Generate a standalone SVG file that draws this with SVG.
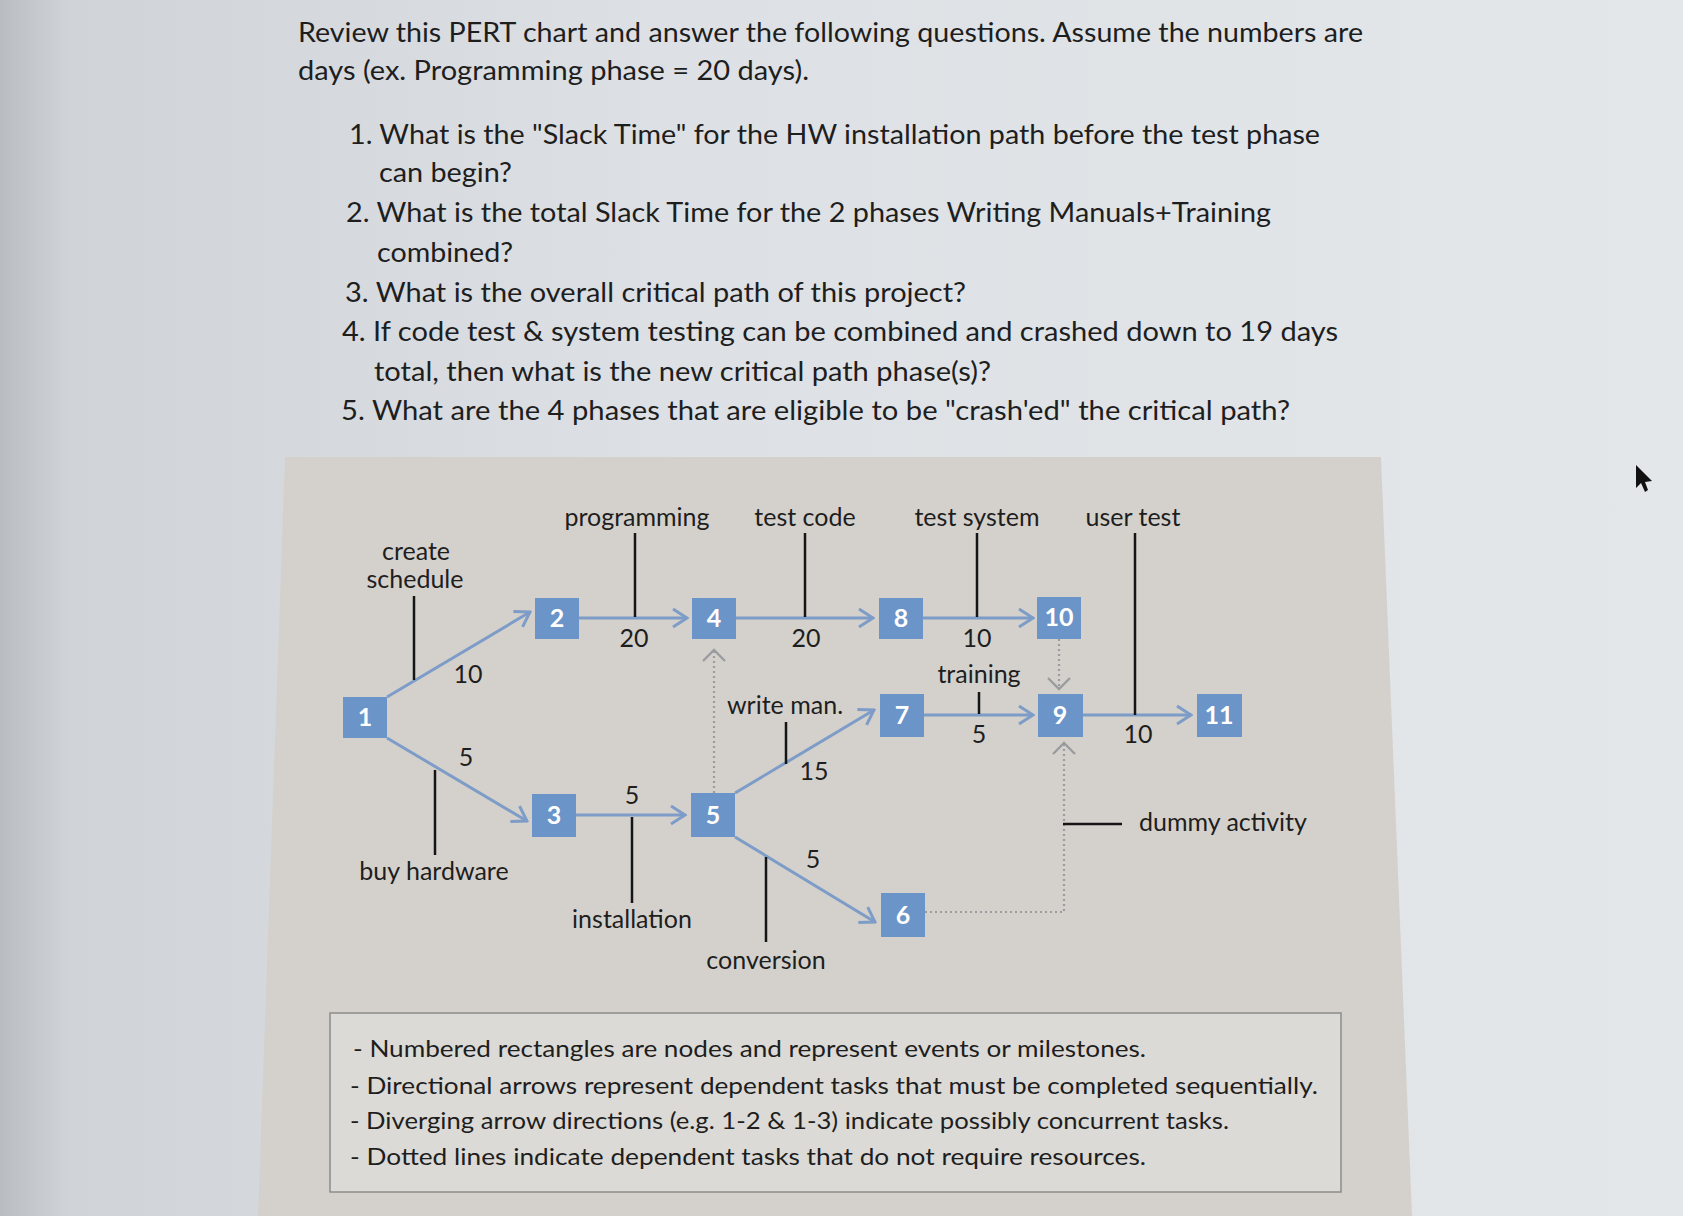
<svg xmlns="http://www.w3.org/2000/svg" width="1683" height="1216" viewBox="0 0 1683 1216">
<defs>
<linearGradient id="bg" x1="0" y1="0" x2="1" y2="0">
<stop offset="0" stop-color="#b9bdc1"/>
<stop offset="0.04" stop-color="#d0d4d8"/>
<stop offset="0.4" stop-color="#dde1e5"/>
<stop offset="1" stop-color="#e3e7ea"/>
</linearGradient>
<marker id="ah" markerUnits="userSpaceOnUse" markerWidth="18" markerHeight="22" viewBox="0 0 18 22" refX="16" refY="11" orient="auto">
<path d="M2,2 L16,11 L2,20" fill="none" stroke="#7d9cc8" stroke-width="3"/>
</marker>
<marker id="dh" markerUnits="userSpaceOnUse" markerWidth="16" markerHeight="26" viewBox="0 0 16 26" refX="14" refY="13" orient="auto">
<path d="M3,2 L14,13 L3,24" fill="none" stroke="#9a9ca0" stroke-width="2.4"/>
</marker>
<style>
.q{font-family:Lato,"Liberation Sans",sans-serif;font-size:26px;fill:#1e1e1e}
.lbl{font-family:Lato,"Liberation Sans",sans-serif;font-size:25px;fill:#1e1e1e}
.leg{font-family:Lato,"Liberation Sans",sans-serif;font-size:24px;fill:#1e1e1e}
.nd{fill:#6b94c9}
.nt{font-family:Lato,"Liberation Sans",sans-serif;font-size:25px;font-weight:bold;fill:#ffffff;text-anchor:middle}
.e{stroke:#7d9cc8;stroke-width:3;fill:none;marker-end:url(#ah)}
.d{stroke:#9a9ca0;stroke-width:2.2;fill:none;stroke-dasharray:2 3}
.k{stroke:#151515;stroke-width:2.5}
.c{text-anchor:middle}
</style>
</defs>
<rect width="1683" height="1216" fill="url(#bg)"/>
<polygon points="285,457 1381,457 1412,1216 258,1216" fill="#d4d1cc"/>

<g id="questions">
<text class="q" x="298" y="42" textLength="1065" lengthAdjust="spacingAndGlyphs">Review this PERT chart and answer the following questions.  Assume the numbers are</text>
<text class="q" x="298" y="80" textLength="511" lengthAdjust="spacingAndGlyphs">days (ex. Programming phase  = 20 days).</text>
<text class="q" x="349" y="144" textLength="971" lengthAdjust="spacingAndGlyphs">1. What is the "Slack Time" for the HW installation path before the test phase</text>
<text class="q" x="379" y="182" textLength="133" lengthAdjust="spacingAndGlyphs">can begin?</text>
<text class="q" x="346" y="222" textLength="925" lengthAdjust="spacingAndGlyphs">2. What is the total Slack Time for the 2 phases Writing Manuals+Training</text>
<text class="q" x="377" y="262" textLength="136" lengthAdjust="spacingAndGlyphs">combined?</text>
<text class="q" x="345" y="302" textLength="621" lengthAdjust="spacingAndGlyphs">3. What is the overall critical path of this project?</text>
<text class="q" x="342" y="341" textLength="996" lengthAdjust="spacingAndGlyphs">4. If code test &amp; system testing can be combined and crashed down to 19 days</text>
<text class="q" x="374" y="381" textLength="617" lengthAdjust="spacingAndGlyphs">total, then what is the new critical path phase(s)?</text>
<text class="q" x="341" y="420" textLength="949" lengthAdjust="spacingAndGlyphs">5. What are the 4 phases that are eligible to be "crash'ed" the critical path?</text>
</g>

<g id="connectors">
<line class="e" x1="387" y1="697" x2="530" y2="612"/>
<line class="e" x1="387" y1="738" x2="527" y2="821"/>
<line class="e" x1="579" y1="618" x2="687" y2="618"/>
<line class="e" x1="576" y1="815" x2="685" y2="815"/>
<line class="e" x1="736" y1="618" x2="873" y2="618"/>
<line class="e" x1="923" y1="618" x2="1033" y2="618"/>
<line class="e" x1="735" y1="793" x2="874" y2="710"/>
<line class="e" x1="924" y1="715" x2="1033" y2="715"/>
<line class="e" x1="1083" y1="715" x2="1191" y2="715"/>
<line class="e" x1="735" y1="837" x2="875" y2="922"/>
<path class="d" d="M714,793 V650" marker-end="url(#dh)"/>
<path class="d" d="M1059,639 V689" marker-end="url(#dh)"/>
<path class="d" d="M925,912 H1064 V743" marker-end="url(#dh)"/>
</g>

<g id="labels">
<line class="k" x1="414" y1="596" x2="414" y2="680"/>
<text class="lbl c" x="416" y="560">create</text>
<text class="lbl c" x="415" y="588">schedule</text>
<text class="lbl c" x="468" y="683">10</text>
<line class="k" x1="435" y1="770" x2="435" y2="855"/>
<text class="lbl c" x="434" y="880">buy hardware</text>
<text class="lbl c" x="466" y="766">5</text>
<line class="k" x1="635" y1="533" x2="635" y2="617"/>
<text class="lbl c" x="637" y="526">programming</text>
<text class="lbl c" x="634" y="647">20</text>
<line class="k" x1="805" y1="533" x2="805" y2="617"/>
<text class="lbl c" x="805" y="526">test code</text>
<text class="lbl c" x="806" y="647">20</text>
<line class="k" x1="977" y1="533" x2="977" y2="617"/>
<text class="lbl c" x="977" y="526">test system</text>
<text class="lbl c" x="977" y="647">10</text>
<line class="k" x1="1135" y1="533" x2="1135" y2="715"/>
<text class="lbl c" x="1133" y="526">user test</text>
<text class="lbl c" x="1138" y="743">10</text>
<line class="k" x1="979" y1="692" x2="979" y2="714"/>
<text class="lbl c" x="979" y="683">training</text>
<text class="lbl c" x="979" y="743">5</text>
<line class="k" x1="786" y1="722" x2="786" y2="764"/>
<text class="lbl c" x="785" y="714">write man.</text>
<text class="lbl c" x="814" y="780">15</text>
<line class="k" x1="766" y1="857" x2="766" y2="942"/>
<text class="lbl c" x="766" y="969">conversion</text>
<text class="lbl c" x="813" y="868">5</text>
<line class="k" x1="632" y1="817" x2="632" y2="903"/>
<text class="lbl c" x="632" y="928">installation</text>
<text class="lbl c" x="632" y="804">5</text>
<line class="k" x1="1063" y1="824" x2="1122" y2="824"/>
<text class="lbl" x="1139" y="831">dummy activity</text>
</g>

<g id="node1"><rect class="nd" x="343" y="697" width="44" height="41"/><text class="nt" x="365" y="726">1</text></g>
<g id="node2"><rect class="nd" x="535" y="598" width="44" height="41"/><text class="nt" x="557" y="627">2</text></g>
<g id="node3"><rect class="nd" x="532" y="794" width="44" height="43"/><text class="nt" x="554" y="824">3</text></g>
<g id="node4"><rect class="nd" x="692" y="598" width="44" height="41"/><text class="nt" x="714" y="627">4</text></g>
<g id="node5"><rect class="nd" x="691" y="793" width="44" height="44"/><text class="nt" x="713" y="824">5</text></g>
<g id="node6"><rect class="nd" x="881" y="893" width="44" height="44"/><text class="nt" x="903" y="924">6</text></g>
<g id="node7"><rect class="nd" x="880" y="694" width="44" height="43"/><text class="nt" x="902" y="724">7</text></g>
<g id="node8"><rect class="nd" x="879" y="598" width="44" height="41"/><text class="nt" x="901" y="627">8</text></g>
<g id="node9"><rect class="nd" x="1038" y="694" width="45" height="43"/><text class="nt" x="1060" y="724">9</text></g>
<g id="node10"><rect class="nd" x="1037" y="597" width="44" height="42"/><text class="nt" x="1059" y="626">10</text></g>
<g id="node11"><rect class="nd" x="1197" y="694" width="45" height="43"/><text class="nt" x="1219" y="724">11</text></g>

<g id="legend">
<rect x="330" y="1013" width="1011" height="179" fill="#dcdad6" stroke="#8c8c8c" stroke-width="1.5"/>
<text class="leg" x="353" y="1057" textLength="793" lengthAdjust="spacingAndGlyphs">- Numbered rectangles are nodes and represent events or milestones.</text>
<text class="leg" x="350" y="1094" textLength="968" lengthAdjust="spacingAndGlyphs">- Directional arrows represent dependent tasks that must be completed sequentially.</text>
<text class="leg" x="350" y="1129" textLength="879" lengthAdjust="spacingAndGlyphs">- Diverging arrow directions (e.g. 1-2 &amp; 1-3) indicate possibly concurrent tasks.</text>
<text class="leg" x="350" y="1165" textLength="796" lengthAdjust="spacingAndGlyphs">- Dotted lines indicate dependent tasks that do not require resources.</text>
</g>

<polygon points="1636,465 1636,488 1641,483 1645,492 1648,490 1645,482 1652,481" fill="#111"/>
</svg>
